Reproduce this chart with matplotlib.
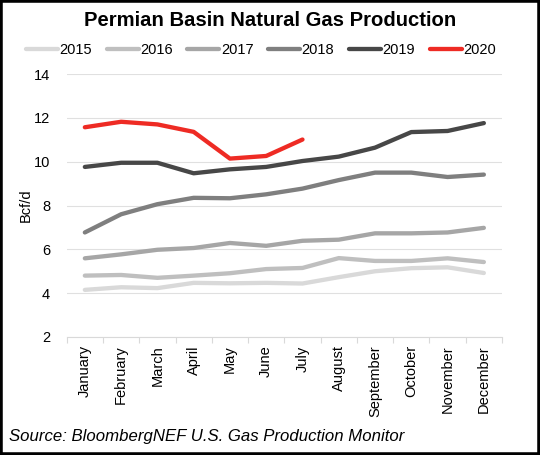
import matplotlib
matplotlib.use("Agg")
import matplotlib.pyplot as plt
from matplotlib.patches import Rectangle

plt.rcParams['font.family'] = ['Liberation Sans', 'DejaVu Sans']

months = ["January", "February", "March", "April", "May", "June", "July",
          "August", "September", "October", "November", "December"]
years = ["2015", "2016", "2017", "2018", "2019", "2020"]
s2015 = [4.15, 4.27, 4.23, 4.47, 4.45, 4.47, 4.44, 4.73, 5.00, 5.14, 5.18, 4.92]
s2016 = [4.80, 4.83, 4.70, 4.80, 4.91, 5.10, 5.15, 5.60, 5.47, 5.47, 5.59, 5.42]
s2017 = [5.59, 5.77, 5.98, 6.06, 6.29, 6.16, 6.39, 6.44, 6.73, 6.73, 6.77, 6.98]
s2018 = [6.77, 7.60, 8.06, 8.35, 8.33, 8.51, 8.77, 9.16, 9.50, 9.50, 9.30, 9.41]
s2019 = [9.76, 9.95, 9.95, 9.47, 9.65, 9.76, 10.03, 10.23, 10.64, 11.35, 11.40, 11.76]
s2020 = [11.57, 11.82, 11.70, 11.36, 10.14, 10.26, 11.01]
series = [s2015, s2016, s2017, s2018, s2019, s2020]
colors = ["#d9d9d9", "#bfbfbf", "#a6a6a6", "#7f7f7f", "#474747", "#ee2b24"]
yticks = [2, 4, 6, 8, 10, 12, 14]

fig = plt.figure(figsize=(5.4, 4.55), dpi=100)
ax = fig.add_axes([66.7/540, 1-337/455, (502-66.7)/540, (337-74)/455])

for yr, vals, c in zip(years, series, colors):
    ax.plot(range(len(vals)), vals, color=c, lw=3.1, solid_capstyle='round',
            solid_joinstyle='round', label=yr)

ax.set_xlim(-0.5, 11.5)
ax.set_ylim(2, 14)
ax.set_yticks(yticks)
ax.set_yticklabels([str(v) for v in yticks], fontsize=10.5)
ax.set_xticks(range(12))
ax.set_xticklabels(months, rotation=90, fontsize=10.5)
ax.tick_params(axis='x', length=0, pad=6)
ax.tick_params(axis='y', length=0, pad=12)
ax.set_xticks([i - 0.5 for i in range(13)], minor=True)
ax.tick_params(axis='x', which='minor', length=4, color='#d9d9d9', width=0.8)
ax.grid(axis='y', color='#e0e0e0', lw=0.8)
ax.set_axisbelow(True)
for s in ['top', 'right', 'left']:
    ax.spines[s].set_visible(False)
ax.spines['bottom'].set_color('#d9d9d9')
ax.spines['bottom'].set_linewidth(0.8)
ax.set_ylabel("Bcf/d", fontsize=10.5)
ax.yaxis.set_label_coords(-0.077, 0.5)

fig.text(0.5, 1-20/455, "Permian Basin Natural Gas Production", ha='center', va='center',
         fontsize=14.6, fontweight='bold')
fig.legend(loc='center', bbox_to_anchor=(0.483, 1-50/455), ncol=6, frameon=False,
           fontsize=10.5, handlelength=2.2, handletextpad=0.1, columnspacing=1.0)
fig.text(9/540, 1-436/455, "Source: BloombergNEF U.S. Gas Production Monitor",
         ha='left', va='center', fontsize=12.1, style='italic')

fig.patches.append(Rectangle((0, 0), 1, 1, transform=fig.transFigure, fill=False,
                             edgecolor='black', lw=4, zorder=10))
fig.savefig("out.png", dpi=100)
